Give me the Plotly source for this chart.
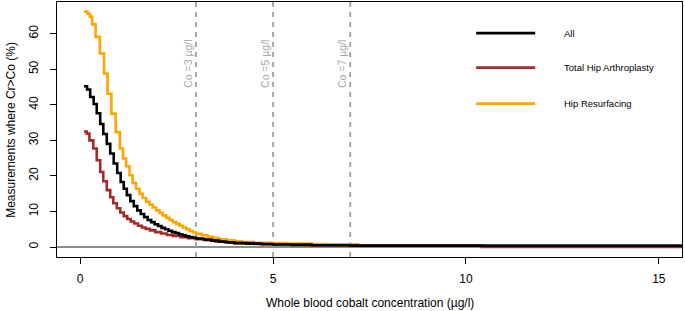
import plotly.graph_objects as go

# ---- data ----
series_names = ["All", "Total Hip Arthroplasty", "Hip Resurfacing"]
series_colors = ["#000000", "#A52A2A", "#FFA500"]

all_x = [0.10, 0.18, 0.26, 0.35, 0.43, 0.52, 0.60, 0.69, 0.78, 0.87, 0.96, 1.05, 1.13, 1.21,
         1.30, 1.39, 1.48, 1.57, 1.66, 1.75, 1.84, 1.93, 2.02, 2.11, 2.20, 2.29, 2.38, 2.47,
         2.56, 2.65, 2.74, 2.83, 2.92, 3.01, 3.20, 3.40, 3.60, 3.80, 4.00, 4.30, 4.70, 5.00,
         5.50, 6.00, 7.00, 15.6]
all_y = [45.2, 44.3, 42.2, 40.2, 37.6, 34.6, 31.8, 29.0, 26.3, 23.5, 20.8, 18.3, 16.4, 14.6,
         12.9, 11.5, 10.3, 9.3, 8.4, 7.6, 7.0, 6.4, 5.9, 5.4, 5.0, 4.6, 4.2, 3.9,
         3.6, 3.3, 3.0, 2.8, 2.6, 2.4, 2.1, 1.8, 1.5, 1.3, 1.1, 0.95, 0.8, 0.7,
         0.6, 0.5, 0.4, 0.4]

tha_x = [0.10, 0.17, 0.24, 0.34, 0.43, 0.52, 0.60, 0.69, 0.78, 0.86, 0.95, 1.04, 1.13, 1.22,
         1.31, 1.40, 1.50, 1.60, 1.70, 1.81, 1.95, 2.10, 2.25, 2.40, 2.60, 2.80, 3.00, 3.25,
         3.50, 3.75, 4.00, 4.50, 5.00, 6.00, 7.00, 10.4, 15.6]
tha_y = [32.5, 31.9, 30.0, 27.7, 24.4, 21.1, 18.5, 16.0, 14.0, 12.3, 10.9, 9.7, 8.7, 7.9,
         7.2, 6.6, 6.0, 5.5, 5.1, 4.7, 4.2, 3.8, 3.4, 3.1, 2.8, 2.5, 2.2, 1.9,
         1.6, 1.35, 1.1, 0.9, 0.7, 0.5, 0.4, 0.0, 0.0]

hr_x = [0.10, 0.19, 0.25, 0.31, 0.40, 0.51, 0.62, 0.71, 0.81, 0.92, 1.03, 1.11, 1.19, 1.28,
        1.36, 1.45, 1.54, 1.62, 1.71, 1.80, 1.88, 1.97, 2.06, 2.14, 2.23, 2.32, 2.40, 2.49,
        2.58, 2.66, 2.75, 2.84, 2.92, 3.01, 3.15, 3.30, 3.45, 3.60, 3.80, 4.00, 4.20, 4.50,
        4.90, 5.35, 6.00, 6.40, 7.20]
hr_y = [66.2, 65.6, 64.8, 62.6, 59.1, 54.4, 48.8, 43.1, 37.5, 32.3, 27.7, 24.9, 22.7, 20.2,
        18.0, 16.4, 15.0, 13.8, 12.7, 11.9, 11.1, 10.3, 9.6, 8.9, 8.2, 7.6, 7.0, 6.5,
        6.0, 5.5, 5.0, 4.5, 4.1, 3.7, 3.3, 2.9, 2.5, 2.2, 1.9, 1.6, 1.4, 1.2,
        1.1, 0.95, 0.85, 0.75, 0.0]

co_limits = [3, 5, 7]
co_labels = ["Co =3 µg/l", "Co =5 µg/l", "Co =7 µg/l"]

x_ticks = [0, 5, 10, 15]
y_ticks = [0, 10, 20, 30, 40, 50, 60]

x_title = "Whole blood cobalt concentration (µg/l)"
y_title = "Measurements where Cr>Co (%)"

FONT = "Liberation Sans, Arial, sans-serif"

fig = go.Figure()
# draw order: resurfacing, THA, all (black on top)
for xs, ys, name, col in [(hr_x, hr_y, series_names[2], series_colors[2]),
                          (tha_x, tha_y, series_names[1], series_colors[1]),
                          (all_x, all_y, series_names[0], series_colors[0])]:
    fig.add_trace(go.Scatter(x=xs, y=ys, mode="lines", name=name,
                             line=dict(color=col, width=2.6, shape="hv"),
                             showlegend=False, hoverinfo="skip"))

shapes = []
# zero line
shapes.append(dict(type="line", xref="paper", yref="y", x0=0, x1=1, y0=0, y1=0,
                   line=dict(color="#8c8c8c", width=2), layer="below"))
# threshold lines
for c in co_limits:
    shapes.append(dict(type="line", xref="x", yref="paper", x0=c, x1=c, y0=0, y1=1,
                       line=dict(color="#a0a0a0", width=1.8, dash="5px,5px"), layer="below"))

annotations = []
for c, lab in zip(co_limits, co_labels):
    annotations.append(dict(x=c, y=51.5, xref="x", yref="y", text=lab, showarrow=False,
                            textangle=-90, xshift=-8,
                            font=dict(family=FONT, size=10.5, color="#a8a8a8")))

# axis titles
annotations.append(dict(x=0.5, y=-0.180, xref="paper", yref="paper", text=x_title,
                        showarrow=False, xanchor="center", yanchor="middle",
                        font=dict(family=FONT, size=12, color="#000000")))
annotations.append(dict(x=-0.0747, y=0.5, xref="paper", yref="paper", text=y_title,
                        showarrow=False, xanchor="center", yanchor="middle", textangle=-90,
                        font=dict(family=FONT, size=12, color="#000000")))

# manual legend
leg_y = [0.878, 0.7427, 0.6016]
for name, col, yy in zip(series_names, series_colors, leg_y):
    shapes.append(dict(type="line", xref="paper", yref="paper", x0=0.6707, x1=0.7651,
                       y0=yy, y1=yy, line=dict(color=col, width=2.6)))
    annotations.append(dict(x=0.8076, y=yy, xref="paper", yref="paper", text=name,
                            showarrow=False, xanchor="left", yanchor="middle",
                            font=dict(family=FONT, size=9.5, color="#000000")))

fig.update_layout(
    width=685, height=311,
    margin=dict(l=57, r=3, t=2, b=54, autoexpand=False),
    paper_bgcolor="white", plot_bgcolor="white",
    font=dict(family=FONT, size=12, color="#000000"),
    shapes=shapes, annotations=annotations,
    showlegend=False,
)
fig.update_xaxes(range=[-0.6, 15.6], tickvals=x_ticks, ticks="outside", ticklen=6,
                 tickcolor="#000000", showgrid=False, zeroline=False, automargin=False,
                 showline=True, mirror=True, linecolor="#000000", linewidth=1,
                 ticklabelstandoff=5, tickfont=dict(size=12))
fig.update_yaxes(range=[-2.8, 68.9], tickvals=y_ticks, ticks="outside", ticklen=6,
                 tickcolor="#000000", showgrid=False, zeroline=False, automargin=False,
                 showline=True, mirror=True, linecolor="#000000", linewidth=1,
                 tickangle=-90, ticklabelstandoff=7, tickfont=dict(size=12))

fig.write_html("out.html", config={"displayModeBar": False},
               post_script="document.body.style.margin='0px';document.body.style.overflow='hidden';")
